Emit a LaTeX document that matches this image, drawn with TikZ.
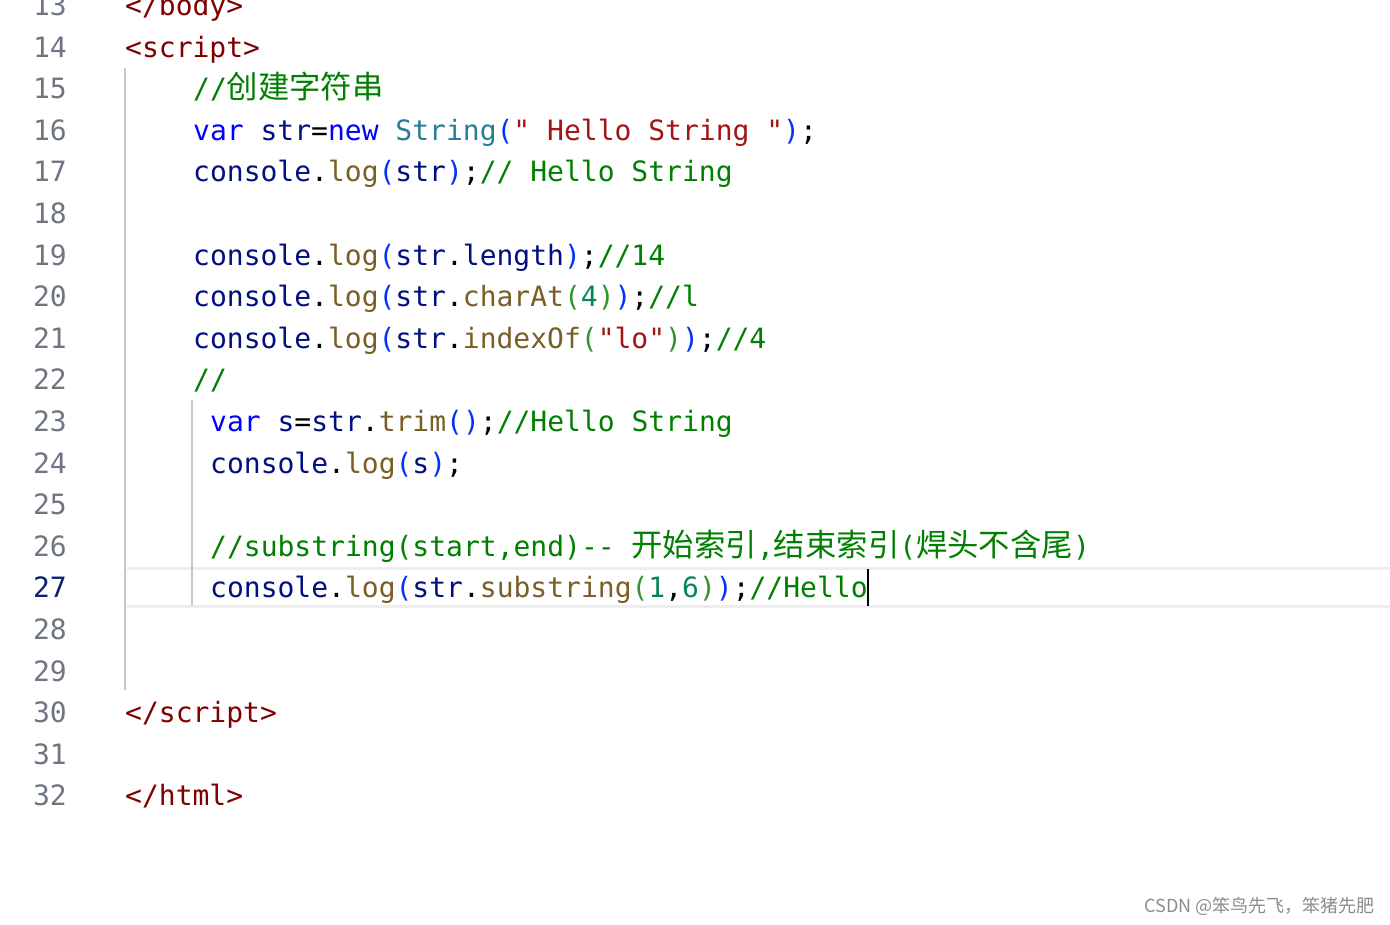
\documentclass[tikz,border=0pt]{standalone}
\usepackage{fontspec}
\setmainfont{DejaVu Sans Mono}[Ligatures=TeXOff]
\newfontfamily\cjk[Scale=1.12]{Noto Sans CJK SC}
\newfontfamily\wm{Noto Sans CJK SC}
\definecolor{kw}{HTML}{0000FF}
\definecolor{idc}{HTML}{001080}
\definecolor{fn}{HTML}{795E26}
\definecolor{strc}{HTML}{A31515}
\definecolor{cmt}{HTML}{008000}
\definecolor{num}{HTML}{098658}
\definecolor{tag}{HTML}{800000}
\definecolor{cls}{HTML}{267F99}
\definecolor{bA}{HTML}{0431FA}
\definecolor{bB}{HTML}{319331}
\definecolor{lnum}{HTML}{6E7681}
\definecolor{lcur}{HTML}{0B216F}
\newcommand\K[1]{\textcolor{kw}{#1}}
\newcommand\I[1]{\textcolor{idc}{#1}}
\newcommand\F[1]{\textcolor{fn}{#1}}
\newcommand\Sx[1]{\textcolor{strc}{#1}}
\newcommand\C[1]{\textcolor{cmt}{#1}}
\newcommand\N[1]{\textcolor{num}{#1}}
\newcommand\T[1]{\textcolor{tag}{#1}}
\newcommand\BA[1]{\textcolor{bA}{#1}}
\newcommand\BB[1]{\textcolor{bB}{#1}}
\begin{document}
\begin{tikzpicture}[x=1pt,y=-1pt,
  code/.style={anchor=base west,inner sep=0pt,font=\fontsize{28}{30}\selectfont},
  lno/.style={anchor=base east,inner sep=0pt,font=\fontsize{28}{30}\selectfont,text=lnum}]
\path[use as bounding box,fill=white] (0,0) rectangle (1390,924);
% current line highlight
\draw[line width=3pt,color=black!7] (127,568) -- (1390,568);
\draw[line width=3pt,color=black!7] (127,606) -- (1390,606);
% indent guides
\draw[line width=1.5pt,color=black!22] (125,68) -- (125,690);
\draw[line width=1.5pt,color=black!22] (192,400) -- (192,606);
% line numbers
\foreach \n in {13,...,32}{
  \pgfmathsetmacro\yy{57+41.6*(\n-14)}
  \ifnum\n=27
    \node[lno,text=lcur] (ln\n) at (67,\yy) {\n};
  \else
    \node[lno] (ln\n) at (67,\yy) {\n};
  \fi
}
\node[code] (c13) at (125,15.4) {\T{</body>}};
\node[code] (c14) at (125,57) {\T{<script>}};
\node[code] (c15) at (193,98.6) {\C{//{\cjk 创建字符串}}};
\node[code] (c16) at (193,140.2) {\K{var} \I{str}=\K{new} \textcolor{cls}{String}\BA{(}\Sx{" Hello String "}\BA{)};};
\node[code] (c17) at (193,181.8) {\I{console}.\F{log}\BA{(}\I{str}\BA{)};\C{// Hello String}};
\node[code] (c19) at (193,265) {\I{console}.\F{log}\BA{(}\I{str}.\I{length}\BA{)};\C{//14}};
\node[code] (c20) at (193,306.6) {\I{console}.\F{log}\BA{(}\I{str}.\F{charAt}\BB{(}\N{4}\BB{)}\BA{)};\C{//l}};
\node[code] (c21) at (193,348.2) {\I{console}.\F{log}\BA{(}\I{str}.\F{indexOf}\BB{(}\Sx{"lo"}\BB{)}\BA{)};\C{//4}};
\node[code] (c22) at (193,389.8) {\C{//}};
\node[code] (c23) at (210,431.4) {\K{var} \I{s}=\I{str}.\F{trim}\BA{()};\C{//Hello String}};
\node[code] (c24) at (210,473) {\I{console}.\F{log}\BA{(}\I{s}\BA{)};};
\node[code] (c26) at (210,556.2) {\C{//substring(start,end)-- {\cjk 开始索引},{\cjk 结束索引}({\cjk 焊头不含尾})}};
\node[code] (c27) at (210,597.8) {\I{console}.\F{log}\BA{(}\I{str}.\F{substring}\BB{(}\N{1},\N{6}\BB{)}\BA{)};\C{//Hello}};
\node[code] (c30) at (125,722.6) {\T{</script>}};
\node[code] (c32) at (125,805.8) {\T{</html>}};
% cursor
\draw[line width=2.5pt] (c27.east |- 0,569) -- (c27.east |- 0,606);
% watermark
\node[anchor=base east,inner sep=0pt,font=\wm\fontsize{18}{20}\selectfont,text=black!45] (wm) at (1375,912) {CSDN @笨鸟先飞，笨猪先肥};
\end{tikzpicture}
\end{document}
